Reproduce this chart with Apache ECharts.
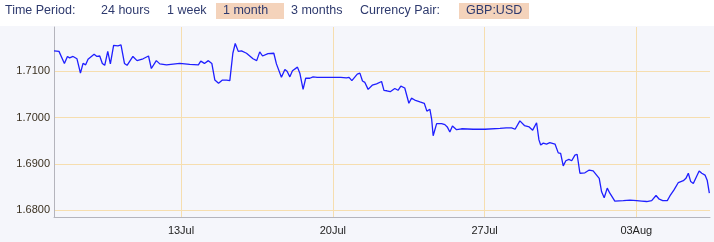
<!DOCTYPE html>
<html>
<head>
<meta charset="utf-8">
<script src="https://cdn.jsdelivr.net/npm/echarts@6/dist/echarts.min.js"></script>
<style>
html,body{margin:0;padding:0;background:#ffffff;}
#chart{width:714px;height:242px;}
</style>
</head>
<body>
<div id="chart"></div>
<script>
// Day numbers counted from 1 July (32 = 1 Aug, 34 = 3 Aug)
var days = [7.14,7.37,7.62,7.76,7.86,8.02,8.20,8.36,8.48,8.60,8.71,8.99,9.12,9.25,9.37,9.48,9.62,9.74,9.89,10.09,
10.23,10.39,10.51,10.78,10.97,11.25,11.50,11.63,11.86,12.02,12.33,12.94,13.40,13.80,13.91,14.08,14.26,14.42,14.56,14.73,
14.91,15.10,15.25,15.39,15.50,15.64,15.79,16.02,16.32,16.49,16.63,16.76,17.01,17.28,17.40,17.63,17.79,17.89,18.02,18.14,
18.37,18.48,18.63,18.75,18.94,19.09,19.28,19.71,20.37,20.63,20.75,20.88,21.13,21.25,21.37,21.48,21.63,21.82,22.02,22.25,
22.36,22.49,22.65,22.86,23.01,23.14,23.32,23.51,23.63,23.78,24.02,24.22,24.34,24.48,24.56,24.63,24.79,25.02,25.17,25.28,
25.40,25.52,25.71,25.94,26.48,27.02,27.71,28.00,28.09,28.25,28.41,28.63,28.84,29.06,29.22,29.40,29.51,29.59,29.71,29.86,
30.01,30.25,30.40,30.51,30.63,30.75,30.89,31.02,31.17,31.27,31.40,31.63,31.83,32.01,32.09,32.29,32.40,32.52,32.66,32.78,
33.01,33.40,33.71,34.02,34.25,34.48,34.71,34.78,34.91,35.06,35.22,35.43,35.55,35.74,35.94,36.17,36.29,36.40,36.51,36.63,
36.78,36.90,37.02,37.17,37.27,37.37];
var rates = [1.7144,1.7143,1.7117,1.7132,1.7129,1.7132,1.7127,1.7096,1.7117,1.7114,1.7126,1.7137,1.7132,1.7133,1.7117,1.7113,1.7143,1.7116,1.7156,1.7155,
1.7157,1.7117,1.7113,1.7132,1.7123,1.7127,1.7133,1.7106,1.7123,1.7116,1.7114,1.7117,1.7115,1.7114,1.7122,1.7117,1.7123,1.7117,1.7081,1.7074,
1.7081,1.7081,1.7080,1.7139,1.7160,1.7143,1.7144,1.7139,1.7127,1.7123,1.7142,1.7133,1.7138,1.7139,1.7116,1.7087,1.7104,1.7100,1.7088,1.7101,
1.7109,1.7096,1.7061,1.7085,1.7085,1.7088,1.7087,1.7087,1.7087,1.7086,1.7087,1.7080,1.7094,1.7096,1.7079,1.7076,1.7061,1.7070,1.7073,1.7078,
1.7059,1.7058,1.7056,1.7063,1.7059,1.7068,1.7064,1.7031,1.7042,1.7038,1.7034,1.7031,1.7014,1.7018,1.6997,1.6961,1.6987,1.6987,1.6985,1.6980,
1.6969,1.6982,1.6974,1.6976,1.6975,1.6975,1.6977,1.6978,1.6977,1.6978,1.6975,1.6993,1.6983,1.6980,1.6973,1.6989,1.6952,1.6941,1.6945,1.6943,
1.6946,1.6943,1.6924,1.6923,1.6896,1.6907,1.6910,1.6907,1.6919,1.6921,1.6880,1.6881,1.6887,1.6885,1.6889,1.6869,1.6840,1.6827,1.6848,1.6837,
1.6820,1.6821,1.6822,1.6821,1.6820,1.6819,1.6821,1.6819,1.6832,1.6824,1.6821,1.6821,1.6831,1.6844,1.6860,1.6864,1.6869,1.6880,1.6862,1.6858,
1.6873,1.6885,1.6880,1.6876,1.6865,1.6837];
var xTicks = [13, 20, 27, 34];
var yTicks = [1.68, 1.69, 1.70, 1.71];
var periods = ['24 hours', '1 week', '1 month', '3 months'];
var selectedPeriod = '1 month';
var pair = 'GBP:USD';

function dayLabel(d) {
  if (d > 31) { var a = d - 31; return (a < 10 ? '0' + a : '' + a) + 'Aug'; }
  return d + 'Jul';
}

var FONT = 'Liberation Sans, Arial, sans-serif';
var headColor = '#2e3a6e';
var hiColor = '#f4d3bb';
var HFONT = '12.5px ' + FONT;

var periodX = [101, 167, 223, 291];
var graphics = [
  {type:'rect', left:0, top:0, shape:{width:714, height:26}, style:{fill:'#ffffff'}, z:0},
  {type:'text', left:5, top:4, style:{text:'Time Period:', font:HFONT, fill:headColor}}
];
periods.forEach(function (p, i) {
  if (p === selectedPeriod) {
    graphics.push({type:'rect', left:216, top:3, shape:{width:68, height:16}, style:{fill:hiColor}});
  }
  graphics.push({type:'text', left:periodX[i], top:4, style:{text:p, font:HFONT, fill:headColor}});
});
graphics.push({type:'text', left:360, top:4, style:{text:'Currency Pair:', font:HFONT, fill:headColor}});
graphics.push({type:'rect', left:459, top:3, shape:{width:70, height:16}, style:{fill:hiColor}});
graphics.push({type:'text', left:466, top:4, style:{text:pair, font:HFONT, fill:headColor}});

var gridColor = '#f6deaf';

var chart = echarts.init(document.getElementById('chart'));
chart.setOption({
  animation: false,
  backgroundColor: '#f5f6fb',
  textStyle: {fontFamily: FONT},
  graphic: graphics,
  grid: {left: 54, right: 4, top: 27, bottom: 25},
  xAxis: {
    type: 'value', min: 7.14, max: 37.4,
    axisLine: {show: true, lineStyle: {color: '#b4b4bc', width: 1}},
    axisTick: {show: false, customValues: xTicks},
    splitLine: {show: true, lineStyle: {color: gridColor, width: 1}},
    axisLabel: {customValues: xTicks, formatter: function (v) { return dayLabel(Math.round(v)); },
      color: '#222222', fontSize: 11, fontFamily: FONT, margin: 8}
  },
  yAxis: {
    type: 'value', min: 1.67856, max: 1.71956,
    axisLine: {show: true, lineStyle: {color: '#b4b4bc', width: 1}},
    axisTick: {show: false, customValues: yTicks},
    splitLine: {show: true, lineStyle: {color: gridColor, width: 1}},
    axisLabel: {customValues: yTicks, formatter: function (v) { return v.toFixed(4); },
      color: '#3a3020', fontSize: 11, fontFamily: FONT, margin: 4}
  },
  series: [{
    type: 'line',
    data: days.map(function (d, i) { return [d, rates[i]]; }),
    showSymbol: false,
    lineStyle: {color: '#1f1fff', width: 1.3},
    z: 3
  }]
});
</script>
</body>
</html>
